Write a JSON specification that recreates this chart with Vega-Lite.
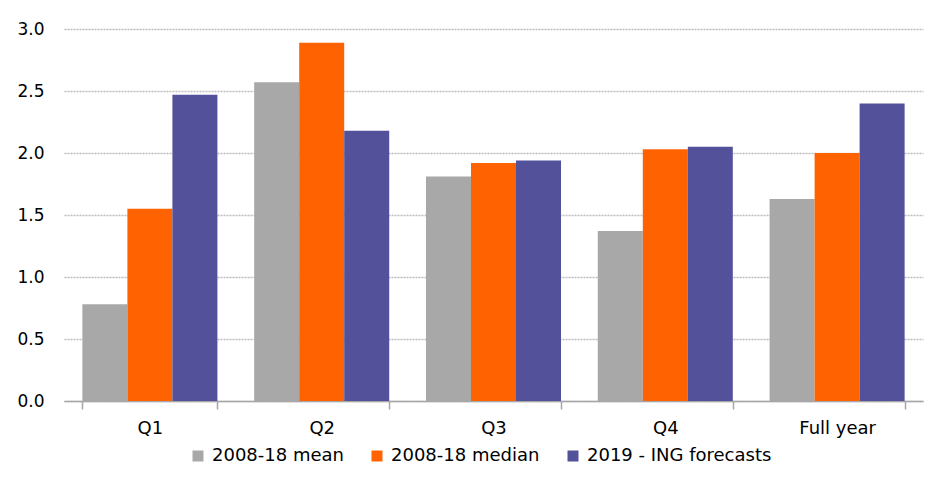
{
  "$schema": "https://vega.github.io/schema/vega-lite/v6.json",
  "width": 859,
  "height": 372,
  "autosize": {"type": "none"},
  "padding": {"left": 64, "top": 29, "right": 29, "bottom": 90},
  "config": {"view": {"stroke": null}, "font": "DejaVu Sans"},
  "data": {
    "values": [
      {"period": "Q1", "series": "2008-18 mean", "value": 0.78},
      {"period": "Q1", "series": "2008-18 median", "value": 1.55},
      {"period": "Q1", "series": "2019 - ING forecasts", "value": 2.47},
      {"period": "Q2", "series": "2008-18 mean", "value": 2.57},
      {"period": "Q2", "series": "2008-18 median", "value": 2.89},
      {"period": "Q2", "series": "2019 - ING forecasts", "value": 2.18},
      {"period": "Q3", "series": "2008-18 mean", "value": 1.81},
      {"period": "Q3", "series": "2008-18 median", "value": 1.92},
      {"period": "Q3", "series": "2019 - ING forecasts", "value": 1.94},
      {"period": "Q4", "series": "2008-18 mean", "value": 1.37},
      {"period": "Q4", "series": "2008-18 median", "value": 2.03},
      {"period": "Q4", "series": "2019 - ING forecasts", "value": 2.05},
      {"period": "Full year", "series": "2008-18 mean", "value": 1.63},
      {"period": "Full year", "series": "2008-18 median", "value": 2.0},
      {"period": "Full year", "series": "2019 - ING forecasts", "value": 2.4}
    ]
  },
  "mark": {"type": "bar"},
  "encoding": {
    "x": {
      "field": "period",
      "type": "nominal",
      "sort": ["Q1", "Q2", "Q3", "Q4", "Full year"],
      "scale": {"paddingInner": 0.214, "paddingOuter": 0.107},
      "axis": {
        "title": null,
        "labelAngle": 0,
        "tickBand": "extent",
        "domainColor": "#a6a6a6",
        "domainWidth": 1.5,
        "tickColor": "#a6a6a6",
        "tickWidth": 1.5,
        "tickSize": 8,
        "labelFontSize": 18,
        "labelColor": "#000000",
        "labelPadding": 10,
        "grid": false
      }
    },
    "xOffset": {
      "field": "series",
      "type": "nominal",
      "sort": ["2008-18 mean", "2008-18 median", "2019 - ING forecasts"]
    },
    "y": {
      "field": "value",
      "type": "quantitative",
      "scale": {"domain": [0, 3]},
      "axis": {
        "title": null,
        "values": [0, 0.5, 1, 1.5, 2, 2.5, 3],
        "format": ".1f",
        "domain": false,
        "ticks": false,
        "labelPadding": 20,
        "labelFontSize": 17,
        "labelColor": "#000000",
        "gridColor": "#bdbdbd",
        "gridWidth": 1.5,
        "gridDash": [2, 1]
      }
    },
    "color": {
      "field": "series",
      "type": "nominal",
      "scale": {
        "domain": ["2008-18 mean", "2008-18 median", "2019 - ING forecasts"],
        "range": ["#A8A8A8", "#FF6200", "#525199"]
      },
      "legend": {
        "title": null,
        "orient": "none",
        "direction": "horizontal",
        "legendX": 125,
        "legendY": 418,
        "symbolType": "square",
        "symbolSize": 121,
        "symbolStrokeWidth": 0,
        "symbolOpacity": 1,
        "labelFontSize": 18,
        "labelColor": "#000000",
        "labelLimit": 400,
        "columnPadding": 24,
        "labelOffset": 5
      }
    }
  }
}
